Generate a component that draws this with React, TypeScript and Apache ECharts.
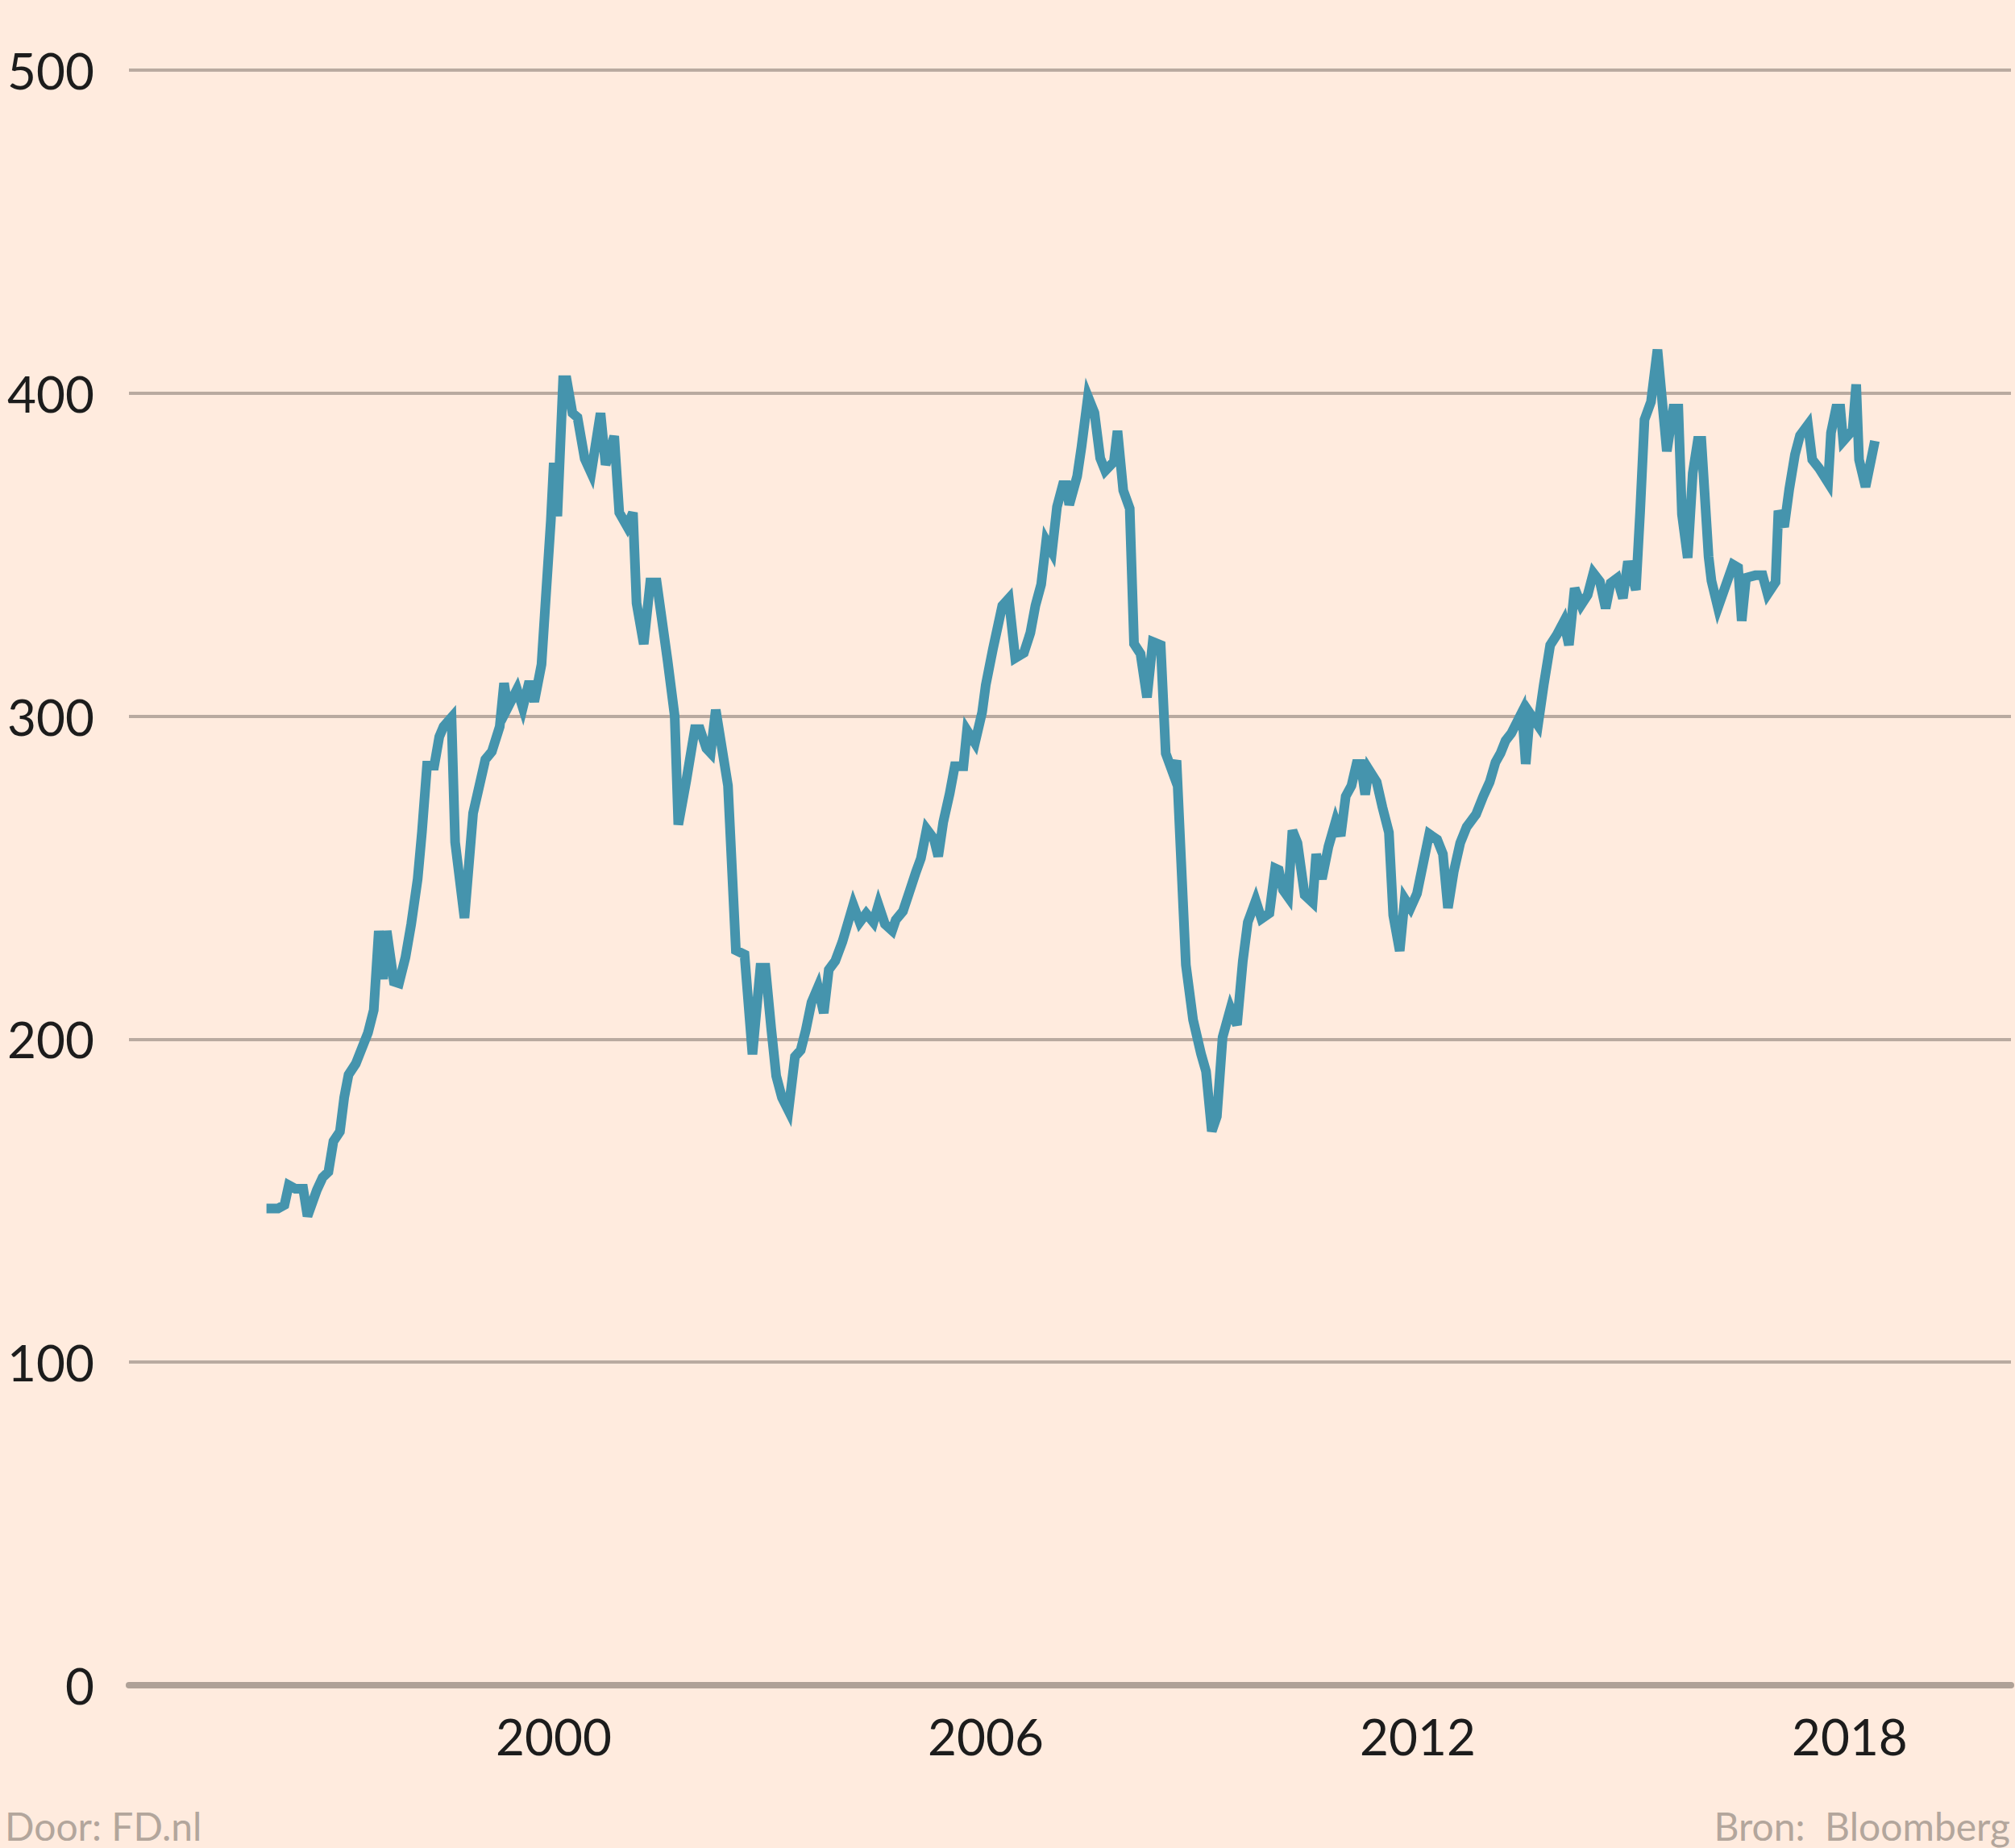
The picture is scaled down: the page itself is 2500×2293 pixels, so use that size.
import React, { useEffect, useRef } from "react";
import * as echarts from "echarts";

// Axis ticks
const yearTicks = [2000, 2006, 2012, 2018];
const levelMin = 0;
const levelMax = 500;
const levelStep = 100;

// Index level per date, [decimal year, level]
const rise1996to2000: [number, number][] = [
  [1996.01, 147.6], [1996.17, 147.6], [1996.26, 148.7], [1996.32, 154.8], [1996.41, 153.7],
  [1996.52, 153.7], [1996.58, 145.2], [1996.71, 153.3], [1996.79, 157.2], [1996.87, 158.9],
  [1996.94, 168.4], [1997.03, 171.4], [1997.09, 182.0], [1997.15, 189.0], [1997.25, 192.4],
  [1997.42, 202.0], [1997.5, 209.0], [1997.57, 233.5], [1997.63, 218.6], [1997.68, 233.5],
  [1997.78, 217.8], [1997.85, 217.3], [1997.94, 225.3], [1998.02, 235.6], [1998.11, 249.6],
  [1998.17, 264.3], [1998.24, 284.7], [1998.34, 284.7], [1998.41, 293.6], [1998.47, 296.8],
  [1998.58, 299.6], [1998.63, 261.0], [1998.76, 237.5], [1998.88, 270.0], [1999.05, 286.6],
  [1999.14, 289.0], [1999.25, 296.8], [1999.31, 310.2], [1999.36, 302.6], [1999.49, 308.3],
  [1999.57, 302.6], [1999.66, 310.8], [1999.73, 304.5], [1999.83, 316.0], [1999.9, 340.2],
  [1999.96, 360.6], [2000.0, 378.4], [2000.05, 361.9], [2000.13, 404.0], [2000.18, 404.0],
];

const fall2000to2003: [number, number][] = [
  [2000.26, 393.8], [2000.33, 392.5], [2000.43, 379.7], [2000.52, 375.3], [2000.65, 393.8],
  [2000.72, 377.8], [2000.84, 386.7], [2000.91, 363.0], [2001.02, 358.7], [2001.1, 363.0],
  [2001.15, 335.0], [2001.25, 322.3], [2001.34, 341.4], [2001.43, 341.4], [2001.58, 317.4],
  [2001.68, 300.0], [2001.73, 266.4], [2001.84, 279.9], [2001.96, 296.0], [2002.03, 296.0],
  [2002.12, 290.0], [2002.18, 288.6], [2002.25, 302.0], [2002.42, 278.5], [2002.53, 227.5],
  [2002.65, 226.2], [2002.76, 195.3], [2002.87, 222.1], [2002.94, 222.1], [2003.02, 203.4],
  [2003.09, 188.6], [2003.17, 181.9], [2003.26, 177.9],
];

const rise2003to2007: [number, number][] = [
  [2003.35, 194.6], [2003.43, 196.6], [2003.5, 202.7], [2003.58, 211.4], [2003.67, 216.1],
  [2003.75, 208.1], [2003.82, 221.5], [2003.91, 224.2], [2004.01, 230.2], [2004.16, 241.6],
  [2004.25, 236.2], [2004.34, 238.9], [2004.44, 236.2], [2004.51, 241.6], [2004.6, 235.6],
  [2004.7, 233.6], [2004.75, 236.9], [2004.85, 239.6], [2004.94, 245.6], [2005.03, 251.7],
  [2005.1, 256.0], [2005.18, 265.0], [2005.28, 262.0], [2005.34, 256.6], [2005.41, 267.2],
  [2005.5, 276.1], [2005.57, 284.5], [2005.69, 284.5], [2005.74, 295.6], [2005.85, 291.7],
  [2005.95, 301.2], [2006.0, 309.6], [2006.1, 320.8], [2006.23, 334.2], [2006.32, 336.4],
  [2006.41, 318.0], [2006.53, 319.6], [2006.62, 325.8], [2006.69, 334.2], [2006.77, 340.8],
  [2006.84, 354.2], [2006.92, 350.9], [2006.99, 364.8], [2007.07, 371.5], [2007.12, 371.5],
  [2007.16, 365.4], [2007.27, 374.3], [2007.33, 383.3], [2007.42, 398.9],
];

const fall2007to2009: [number, number][] = [
  [2007.51, 393.9], [2007.59, 379.9], [2007.66, 376.0], [2007.78, 378.8], [2007.83, 388.3],
  [2007.91, 369.9], [2008.0, 364.3], [2008.06, 322.4], [2008.15, 319.3], [2008.24, 305.8],
  [2008.32, 323.0], [2008.43, 322.0], [2008.5, 288.5], [2008.6, 282.4], [2008.65, 286.3],
  [2008.78, 223.0], [2008.88, 206.0], [2008.99, 195.5], [2009.06, 190.0], [2009.14, 171.5],
];

const rise2009to2018: [number, number][] = [
  [2009.21, 176.1], [2009.29, 200.6], [2009.4, 209.5], [2009.49, 204.4], [2009.57, 224.0],
  [2009.64, 236.2], [2009.75, 242.9], [2009.83, 237.3], [2009.94, 239.0], [2010.02, 252.9],
  [2010.07, 252.4], [2010.13, 246.2], [2010.2, 244.0], [2010.26, 264.6], [2010.33, 260.7],
  [2010.43, 244.6], [2010.54, 242.3], [2010.59, 257.3], [2010.67, 249.6], [2010.76, 259.6],
  [2010.86, 267.4], [2010.93, 262.9], [2011.0, 275.2], [2011.08, 278.5], [2011.15, 285.2],
  [2011.21, 285.2], [2011.27, 275.7], [2011.32, 283.5], [2011.43, 279.6], [2011.51, 271.8],
  [2011.6, 264.0], [2011.66, 238.4], [2011.75, 227.3], [2011.82, 243.4], [2011.9, 240.6],
  [2011.99, 245.1], [2012.16, 263.5], [2012.27, 261.8], [2012.35, 257.3], [2012.42, 240.6],
  [2012.5, 251.8], [2012.59, 260.7], [2012.68, 265.7], [2012.81, 269.6], [2012.91, 275.2],
  [2013.0, 279.6], [2013.08, 285.7], [2013.15, 288.5], [2013.22, 292.4], [2013.3, 294.7],
  [2013.45, 301.3], [2013.5, 285.2], [2013.56, 300.8], [2013.67, 297.2], [2013.75, 309.6],
  [2013.84, 322.0], [2013.93, 325.1], [2014.03, 329.3], [2014.1, 322.0], [2014.18, 339.6],
  [2014.27, 334.4], [2014.36, 337.5], [2014.44, 344.3], [2014.53, 341.7], [2014.61, 333.4],
  [2014.68, 341.2], [2014.77, 342.7], [2014.85, 336.5], [2014.92, 347.9], [2015.03, 339.1],
  [2015.09, 363.6], [2015.15, 391.8], [2015.24, 397.3], [2015.33, 413.5], [2015.46, 382.0],
  [2015.55, 395.2], [2015.62, 395.2], [2015.67, 362.5], [2015.75, 349.0], [2015.82, 375.2],
  [2015.89, 385.2], [2015.94, 385.2], [2016.04, 349.4], [2016.08, 341.9], [2016.17, 333.6],
  [2016.38, 346.9], [2016.45, 346.0], [2016.5, 329.5], [2016.56, 342.8], [2016.69, 343.6],
  [2016.79, 343.6], [2016.86, 337.8], [2016.97, 341.5], [2017.01, 363.6], [2017.09, 358.6],
  [2017.16, 370.2], [2017.24, 381.0], [2017.31, 386.9], [2017.42, 390.2], [2017.48, 379.4],
  [2017.57, 376.9], [2017.7, 372.3], [2017.74, 387.7], [2017.81, 395.2], [2017.87, 395.2],
  [2017.91, 385.2], [2018.04, 388.5], [2018.09, 402.7], [2018.13, 379.4], [2018.22, 371.0],
  [2018.35, 385.2],
];

const FONT = "Lato, 'Open Sans', sans-serif";
const BG = "#FFEBDE";
const LINE = "#4594AD";
const GRID = "#B9AAA0";
const BASE = "#AFA197";
const INK = "#1C1C1C";
const NOTE = "#B3A69C";

export default function App() {
  const ref = useRef<HTMLDivElement | null>(null);

  useEffect(() => {
    document.body.style.margin = "0";
    document.body.style.background = BG;
    if (!ref.current) return;
    const chart = echarts.init(ref.current, null, { renderer: "svg" });

    const series = [
      ...rise1996to2000,
      ...fall2000to2003,
      ...rise2003to2007,
      ...fall2007to2009,
      ...rise2009to2018,
    ];

    chart.setOption({
      animation: false,
      backgroundColor: BG,
      textStyle: { fontFamily: FONT },
      grid: {
        left: 160,
        right: 5,
        top: 87,
        bottom: 202,
        containLabel: false,
        outerBoundsMode: "none",
      },
      xAxis: {
        type: "value",
        min: 1994.1,
        max: 2020.24,
        splitLine: { show: false },
        axisTick: { show: false },
        axisLine: { show: true, lineStyle: { color: BASE, width: 8 } },
        axisLabel: {
          customValues: yearTicks,
          formatter: (v: number) => String(Math.round(v)),
          color: INK,
          fontFamily: FONT,
          fontSize: 62,
          margin: 32,
        },
      },
      yAxis: {
        type: "value",
        min: levelMin,
        max: levelMax,
        interval: levelStep,
        axisLine: { show: false },
        axisTick: { show: false },
        splitLine: { show: true, lineStyle: { color: GRID, width: 4 } },
        axisLabel: {
          color: INK,
          fontFamily: FONT,
          fontSize: 62,
          margin: 43,
        },
      },
      series: [
        {
          type: "line",
          data: series,
          symbol: "none",
          showSymbol: false,
          clip: false,
          lineStyle: { color: LINE, width: 12, join: "miter", miterLimit: 10, cap: "butt" },
          z: 5,
        },
      ],
      graphic: [
        {
          type: "text",
          left: 6,
          top: 2241,
          style: { text: "Door: FD.nl", fill: NOTE, font: `48px ${FONT}` },
        },
        {
          type: "text",
          right: 6,
          top: 2241,
          style: { text: "Bron:  Bloomberg", fill: NOTE, font: `48px ${FONT}` },
        },
      ],
    });

    return () => chart.dispose();
  }, []);

  return (
    <div
      ref={ref}
      style={{ position: "absolute", left: 0, top: 0, width: 2500, height: 2293, background: BG }}
    />
  );
}
